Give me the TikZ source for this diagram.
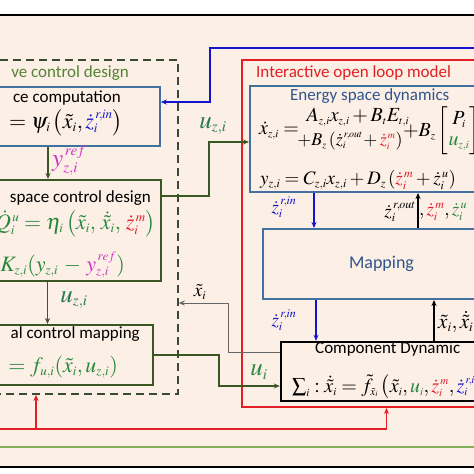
\documentclass[tikz,border=0pt]{standalone}
\usepackage{amsmath}
\usepackage{mathptmx}
\usepackage[no-math]{fontspec}
\setmainfont{Carlito}
\usetikzlibrary{positioning,arrows.meta}
\DeclareMathSizes{17}{17}{11}{8}
\DeclareMathSizes{18}{18}{10}{8}
\DeclareMathSizes{19}{19}{12}{9}
\DeclareMathSizes{20}{20}{11}{8}
\DeclareMathSizes{21}{21}{13}{10}
\DeclareMathSizes{22}{22}{13}{10}
\DeclareMathSizes{25}{25}{15}{11}
\definecolor{peach}{RGB}{252,239,229}
\definecolor{boxblue}{RGB}{65,113,156}
\definecolor{titleblue}{RGB}{47,85,140}
\definecolor{ctrlgreen}{RGB}{56,87,35}
\definecolor{titlegreen}{RGB}{84,130,53}
\definecolor{eqgreen}{RGB}{40,135,60}
\definecolor{ugreen}{RGB}{35,120,80}
\definecolor{linered}{RGB}{226,32,36}
\definecolor{arrowblue}{RGB}{20,20,205}
\definecolor{refpink}{RGB}{210,50,200}
\definecolor{zred}{RGB}{226,30,45}
\definecolor{lightgreen}{RGB}{130,175,90}
\definecolor{dashgreen}{RGB}{55,75,50}
\tikzset{
  box/.style={rectangle, inner sep=0pt},
  bluebox/.style={box, draw=boxblue, line width=1.6pt},
  greenbox/.style={box, draw=ctrlgreen, line width=2pt},
  title/.style={inner sep=0pt, font=\fontsize{17}{20}\selectfont},
  eq/.style={inner sep=0pt, font=\fontsize{19}{22}\selectfont},
  midEq/.style={inner sep=0pt, font=\fontsize{20}{23}\selectfont},
  bigeq/.style={inner sep=0pt, font=\fontsize{22}{26}\selectfont},
  sig/.style={inner sep=0pt, font=\fontsize{25}{30}\selectfont}
}
\newcommand{\zm}{\textcolor{zred}{\dot{z}_i^{\,m}}}
\newcommand{\zrin}{\textcolor{arrowblue}{\dot{z}_i^{\,r,\mkern-1mu in}}}
\newcommand{\zrout}{\dot{z}_i^{\,r,\mkern-1mu out}}

\begin{document}
\begin{tikzpicture}[x=1pt, y=-1pt, >={Stealth[length=6pt,width=5pt]}]
\useasboundingbox (0,0) rectangle (474,474);
\clip (0,0) rectangle (474,474);

% frame
\fill[white] (0,0) rectangle (474,474);
\fill[peach] (0,15) rectangle (474,467);
\draw[line width=2pt] (0,15) -- (474,15);
\draw[line width=2pt] (0,467) -- (474,467);

% boxes
\node[box, draw=dashgreen, line width=1.6pt, dash pattern=on 8pt off 5pt,
  minimum width=198pt, minimum height=334pt] (adapt) at (79,227) {};
\node[box, draw=linered, line width=2pt,
  minimum width=258pt, minimum height=347pt] (iolm) at (371,233.5) {};
\node[bluebox, minimum width=180pt, minimum height=59pt] (refc) at (70,116.5) {};
\node[greenbox, minimum width=181pt, minimum height=101pt] (ctrl) at (70.5,230.5) {};
\node[greenbox, minimum width=173pt, minimum height=60pt] (fmap) at (66.5,355) {};
\node[bluebox, line width=2pt, minimum width=250pt, minimum height=106pt] (esd) at (375,139) {};
\node[bluebox, line width=2pt, minimum width=237pt, minimum height=70pt,
  text=titleblue, font=\fontsize{18}{21}\selectfont] (mapb) at (381.5,264) {Mapping};
\node[box, draw=black, line width=2.4pt, minimum width=219pt, minimum height=59pt] (comp) at (390.5,371.5) {};

% titles
\node[title, text=titlegreen, anchor=east] (adaptT) at (129,73) {ve control design};
\node[title, anchor=east] (refcT) at (121,98) {ce computation};
\node[title, anchor=east] (ctrlT) at (151,198) {space control design};
\node[title, anchor=east] (fmapT) at (140,334) {al control mapping};
\node[title, text=linered, anchor=west] (iolmT) at (256,73) {Interactive open loop model};
\node[title, text=titleblue, anchor=west] (esdT) at (290,96) {Energy space dynamics};
\node[title, anchor=west] (compT) at (315,349) {Component Dynamic};

% equations
\node[bigeq, anchor=east] (refcE) at (123,123)
  {$=\psi_i\left(\tilde{x}_i,\zrin\right)$};
\node[bigeq, text=eqgreen, anchor=east] (ctrlE1) at (156,224)
  {$\dot{Q}_i^{\,u}=\eta_i\left(\tilde{x}_i,\,\dot{\tilde{x}}_i,\,\zm\right)$};
\node[bigeq, text=eqgreen, anchor=east] (ctrlE2) at (125,265)
  {$K_{z,i}(y_{z,i}\,-\,\textcolor{refpink}{y_{z,i}^{\,ref}})$};
\node[bigeq, text=eqgreen, anchor=east] (fmapE) at (118,367)
  {$=f_{u,i}(\tilde{x}_i,u_{z,i})$};
\node[midEq, anchor=west] (esdLhs) at (259,131) {$\dot{x}_{z,i}=$};
\node[midEq] (esdRow1) at (358,117) {$A_{z,i}x_{z,i}+B_tE_{t,i}$};
\node[midEq, font=\fontsize{18}{21}\selectfont] (esdRow2) at (350,141) {$+B_z\left(\zrout\mkern-2mu+\zm\right)$};
\node[midEq, anchor=west] (esdMat) at (403,131)
  {\renewcommand{\arraystretch}{0.9}$+B_z\left[\begin{array}{@{}c@{}}P_i\\\textcolor{eqgreen}{u_{z,i}}\end{array}\right]$};
\node[eq, anchor=west] (esdE2) at (260,180)
  {$y_{z,i}=C_{z,i}x_{z,i}+D_z\left(\zm+\dot{z}_i^{\,u}\right)$};
\node[midEq, anchor=west] (compE) at (292,387)
  {$\textstyle\sum_i:\dot{\tilde{x}}_i=\tilde{f}_{\tilde{x}_i}\left(\tilde{x}_i,\textcolor{eqgreen}{u_i},\zm,\zrin\right)$};

% connector ends
\coordinate (bluein) at (480,48);
\coordinate (bluebend) at (210,102);
\coordinate (xtbend) at (228,303);
\coordinate (redin) at (-10,429);

% connectors
\draw[arrowblue, line width=1.8pt, ->] (bluein) -| (bluebend) -- (refc.east |- bluebend);
\draw[ctrlgreen, line width=1.5pt, ->] ([xshift=-22pt]refc.south) -- ([xshift=-22pt]refc.south |- ctrl.north);
\draw[ctrlgreen, line width=1.5pt, ->] ([yshift=34.5pt]ctrl.east) -- ++(47,0) |- ([yshift=-3pt]esd.west);
\draw[ctrlgreen, line width=1.5pt, ->] ([xshift=-23pt]ctrl.south) -- ([xshift=-23pt]ctrl.south |- fmap.north);
\draw[ctrlgreen, line width=1.5pt, ->] (fmap.east) -- ++(65,0) |- ([yshift=-14.5pt]comp.west);
\draw[gray!80!black, line width=1pt, ->] ([yshift=19.5pt]comp.west) -| (xtbend) -- (adapt.east |- xtbend);
\draw[linered, line width=1.8pt, ->] (redin) -| ([xshift=15.5pt]iolm.south);
\draw[linered, line width=1.8pt, ->] ([xshift=-43pt]adapt.south |- redin) -- ([xshift=-43pt]adapt.south);
\draw[lightgreen, line width=1.8pt] (0,447) -- (474,447);
\draw[arrowblue, line width=1.6pt, ->] ([xshift=-61pt]esd.south) -- ([xshift=-61pt]esd.south |- mapb.north);
\draw[black, line width=1.4pt, ->] ([xshift=36.5pt]mapb.north) -- ([xshift=36.5pt]mapb.north |- esd.south);
\draw[arrowblue, line width=1.6pt, ->] ([xshift=-65.5pt]mapb.south) -- ([xshift=-65.5pt]mapb.south |- comp.north);
\draw[black, line width=1.4pt, ->] ([xshift=43.5pt]comp.north) -- ([xshift=43.5pt]comp.north |- mapb.south);

% signal labels
\node[sig, anchor=west] (yrefL) at (52,160) {$\textcolor{refpink}{y_{z,i}^{\,ref}}$};
\node[sig, text=ugreen] (uzL1) at (213,126) {$u_{z,i}$};
\node[sig, text=ugreen] (uzL2) at (74,300) {$u_{z,i}$};
\node[sig, text=eqgreen] (uiL) at (259,372) {$u_i$};
\node[eq] (xtL) at (200,292) {$\tilde{x}_i$};
\node[eq] (zrinL1) at (284,207) {$\zrin$};
\node[eq] (zrinL2) at (284,320) {$\zrin$};
\node[eq, anchor=east] (zroutL) at (416,212) {$\zrout$};
\node[eq, anchor=west] (zmuL) at (419,212) {$,\zm,\textcolor{eqgreen}{\dot{z}_i^{\,u}}$};
\node[eq, font=\fontsize{21}{24}\selectfont, anchor=west] (xtxL) at (438,322) {$\tilde{x}_i,\dot{\tilde{x}}_i$};
\end{tikzpicture}
\end{document}
